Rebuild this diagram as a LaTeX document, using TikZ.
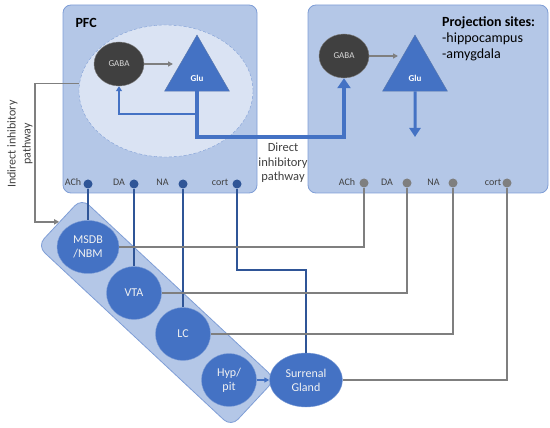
\documentclass[tikz,border=0pt]{standalone}
\usepackage{fontspec}
\setmainfont{Carlito}
\usepackage{xcolor}
\usetikzlibrary{shapes.geometric,arrows.meta}
\definecolor{boxfill}{HTML}{B4C7E7}
\definecolor{boxline}{HTML}{7F9ED6}
\definecolor{cellfill}{HTML}{DAE3F3}
\definecolor{nucl}{HTML}{4472C4}
\definecolor{navy}{HTML}{2F5597}
\definecolor{dkgray}{HTML}{404040}
\definecolor{wire}{HTML}{7F7F7F}

\begin{document}
\begin{tikzpicture}[x=1pt,y=-1pt,
  area/.style={rectangle,rounded corners=8pt,draw=boxline,fill=boxfill,line width=0.8pt},
  gaba/.style={ellipse,minimum width=50pt,minimum height=44pt,inner sep=0pt,draw=wire,fill=dkgray,text=gray!30,font=\fontsize{9}{10}\selectfont},
  glu/.style={regular polygon,regular polygon sides=3,minimum size=75pt,inner sep=0pt,draw=navy!80,fill=nucl,text=white,font=\bfseries\fontsize{9}{10}\selectfont},
  nucleus/.style={ellipse,minimum width=55pt,minimum height=53pt,inner sep=0pt,draw=nucl!70!white,fill=nucl,text=white!95!black,align=center,font=\fontsize{12}{14}\selectfont},
  pdot/.style={circle,minimum size=9pt,inner sep=0pt,fill=navy},
  sdot/.style={circle,minimum size=9pt,inner sep=0pt,fill=wire},
  tag/.style={inner sep=0pt,text=dkgray,font=\fontsize{10}{11}\selectfont},
  blueline/.style={draw=navy,line width=1.3pt},
  grayline/.style={draw=wire,line width=1.3pt},
  small tip/.style={-{Triangle[length=5pt,width=5pt]}}
  ]
\useasboundingbox (0,0) rectangle (550,428);

\node (PFC)[area,minimum width=194pt,minimum height=188pt] at (160,99) {};
\node (PRJ)[area,minimum width=240pt,minimum height=188pt] at (428,99) {};
\node (BOX)[area,rounded corners=10pt,minimum width=265pt,minimum height=65pt,rotate=-43] at (156.4,312.5) {};

\node (PFCT)[anchor=west,font=\bfseries\fontsize{14}{16}\selectfont] at (72,23) {PFC};
\node (PRJT)[anchor=north west,align=left,inner sep=0pt,font=\fontsize{14}{16}\selectfont] at (442,16) {\textbf{Projection sites:}\\-hippocampus\\-amygdala};

\node (CELL)[ellipse,minimum width=174pt,minimum height=132pt,draw=boxline,dash pattern=on 3pt off 2pt,fill=cellfill] at (166,91) {};
\node (GABA1)[gaba] at (119,64) {GABA};
\node (GLU1)[glu] at (197,72.5) {\raisebox{-9.5pt}[0pt][0pt]{Glu}};
\node (GABA2)[gaba] at (344,56) {GABA};
\node (GLU2)[glu] at (415,72.5) {\raisebox{-9.5pt}[0pt][0pt]{Glu}};

\coordinate (A1) at (173,64);
\coordinate (A2) at (398,56);
\draw[grayline,small tip] (GABA1) -- (A1);
\draw[grayline,small tip] (GABA2) -- (A2);

\coordinate (B1) at (270,137);
\coordinate (B2) at (197,114);
\coordinate (B3) at (415,137);
\draw[draw=nucl,line width=4pt,-{Triangle[length=10pt,width=13pt]}] (GLU1.south) |- (B1) -| (GABA2.south);
\draw[draw=nucl,line width=1.5pt,-{Triangle[length=5pt,width=6pt]}] (B2) -| (GABA1.south);
\draw[draw=nucl,line width=3pt,-{Triangle[length=9pt,width=11pt]}] (GLU2.south) -- (B3);

\node (DIR)[align=center,text=dkgray,font=\fontsize{12.5}{14.5}\selectfont] at (283,163) {Direct\\inhibitory\\pathway};
\node (IND)[rotate=90,align=center,text=dkgray,font=\fontsize{12}{15}\selectfont] at (20,144) {Indirect inhibitory\\pathway};

\node (P1)[pdot] at (88,184) {};
\node (P2)[pdot] at (134,184) {};
\node (P3)[pdot] at (183,184) {};
\node (P4)[pdot] at (237,184) {};
\node (TP1)[tag] at (73,182) {ACh};
\node (TP2)[tag] at (119,182) {DA};
\node (TP3)[tag] at (162.5,182) {NA};
\node (TP4)[tag] at (220,182) {cort};

\node (Q1)[sdot] at (364,183) {};
\node (Q2)[sdot] at (407,183) {};
\node (Q3)[sdot] at (453,183) {};
\node (Q4)[sdot] at (507,183) {};
\node (TQ1)[tag] at (347,182) {ACh};
\node (TQ2)[tag] at (387,182) {DA};
\node (TQ3)[tag] at (433.5,182) {NA};
\node (TQ4)[tag] at (493,182) {cort};

\node (MSDB)[nucleus,minimum width=62pt] at (88,247) {MSDB\\/NBM};
\node (VTA)[nucleus] at (134,293) {VTA};
\node (LC)[nucleus] at (183,334) {LC};
\node (HYP)[nucleus] at (229,380) {Hyp/\\pit};
\node (SG)[nucleus,minimum width=73pt,minimum height=54pt] at (306,380) {Surrenal\\Gland};

\coordinate (I1) at (35,150);
\draw[grayline,small tip] (CELL.175) -| (I1) |- (BOX.west);

\draw[blueline] (P1) -- (MSDB);
\draw[blueline] (P2) -- (VTA);
\draw[blueline] (P3) -- (LC);
\coordinate (C4) at (306,270);
\draw[blueline] (P4) |- (C4) -- (SG);

\draw[grayline] (Q1) |- (MSDB);
\draw[grayline] (Q2) |- (VTA);
\draw[grayline] (Q3) |- (LC);
\draw[grayline] (Q4) |- (SG);

\draw[draw=nucl,line width=1.5pt,small tip] (HYP) -- (SG);
\end{tikzpicture}
\end{document}
